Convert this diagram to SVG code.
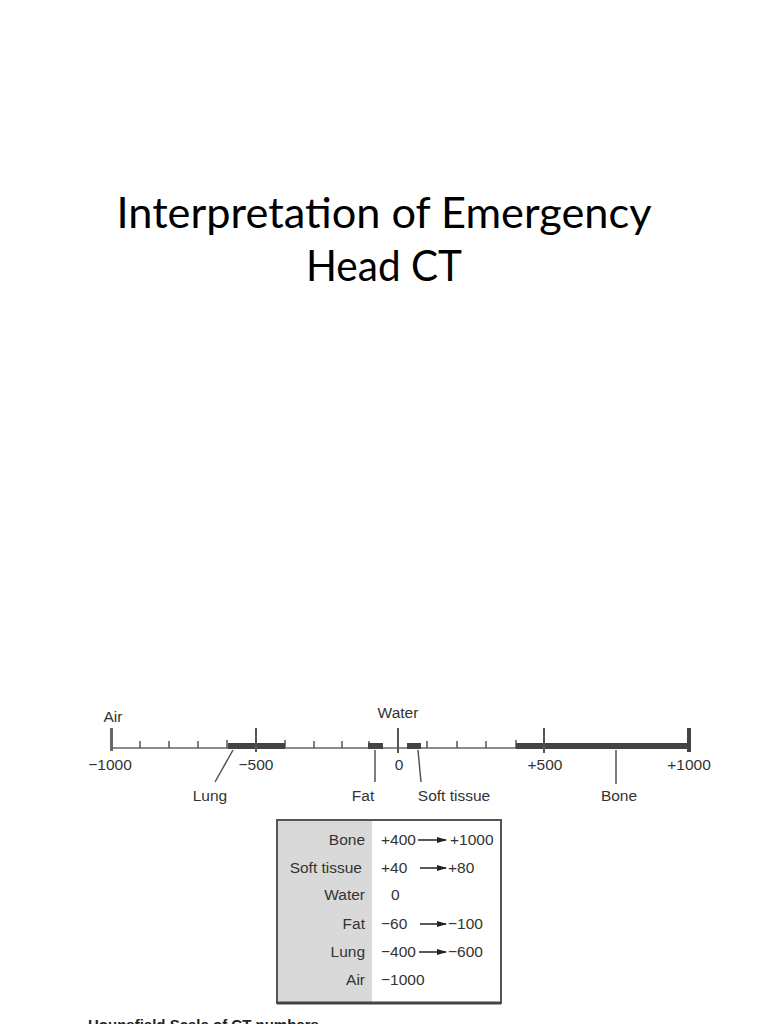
<svg xmlns="http://www.w3.org/2000/svg" width="768" height="1024" viewBox="0 0 768 1024">
<defs>
<marker id="ah" markerWidth="10" markerHeight="6" refX="9" refY="3" orient="auto" markerUnits="userSpaceOnUse">
<path d="M0,0 L10,3 L0,6 Z" fill="#222"/>
</marker>
</defs>
<style>
.t{font-family:"Liberation Sans",Arial,sans-serif;font-size:15.5px;fill:#333}
.title{font-family:Lato,"Open Sans",sans-serif;font-size:42px;fill:#000;text-anchor:middle}
.mn{stroke:#555;stroke-width:1.5}
.mj{stroke:#555;stroke-width:2}
.bar{fill:#444}
.lead{stroke:#555;stroke-width:1.5;fill:none}
.arr{stroke:#222;stroke-width:1.5;marker-end:url(#ah)}
</style>
<rect width="768" height="1024" fill="#fff"/>
<g id="title">
<text class="title" x="384" y="228" textLength="535" lengthAdjust="spacingAndGlyphs">Interpretation of Emergency</text>
<text class="title" x="384" y="281" textLength="156" lengthAdjust="spacingAndGlyphs">Head CT</text>
</g>
<g id="scale">
<line x1="111" y1="748" x2="690" y2="748" stroke="#666" stroke-width="1.5"/>
<line class="mn" x1="140" y1="741" x2="140" y2="748"/>
<line class="mn" x1="169" y1="741" x2="169" y2="748"/>
<line class="mn" x1="198" y1="741" x2="198" y2="748"/>
<line class="mn" x1="227" y1="740" x2="227" y2="748"/>
<line class="mn" x1="285" y1="740" x2="285" y2="748"/>
<line class="mn" x1="314" y1="741" x2="314" y2="748"/>
<line class="mn" x1="342" y1="741" x2="342" y2="748"/>
<line class="mn" x1="369" y1="741" x2="369" y2="748"/>
<line class="mn" x1="427" y1="741" x2="427" y2="748"/>
<line class="mn" x1="457" y1="741" x2="457" y2="748"/>
<line class="mn" x1="486" y1="741" x2="486" y2="748"/>
<line class="mn" x1="516" y1="740" x2="516" y2="748"/>
<rect class="bar" x="228" y="743" width="57" height="6"/>
<rect class="bar" x="368" y="743" width="15" height="6"/>
<rect class="bar" x="407" y="743" width="14" height="6"/>
<rect class="bar" x="516" y="743" width="173" height="6"/>
<line class="mj" x1="256" y1="728" x2="256" y2="752"/>
<line class="mj" x1="398" y1="728" x2="398" y2="753"/>
<line class="mj" x1="544" y1="728" x2="544" y2="753"/>
<line x1="111.5" y1="728" x2="111.5" y2="751" stroke="#666" stroke-width="3"/>
<line x1="689" y1="728" x2="689" y2="752" stroke="#444" stroke-width="4"/>
<text class="t" x="113" y="722" text-anchor="middle">Air</text>
<text class="t" x="398" y="718" text-anchor="middle">Water</text>
<text class="t" x="110" y="770" text-anchor="middle">−1000</text>
<text class="t" x="256" y="770" text-anchor="middle">−500</text>
<text class="t" x="399" y="770" text-anchor="middle">0</text>
<text class="t" x="545" y="770" text-anchor="middle">+500</text>
<text class="t" x="689" y="770" text-anchor="middle">+1000</text>
</g>
<g id="leaders">
<line class="lead" x1="233" y1="750" x2="215" y2="782"/>
<line class="lead" x1="375" y1="750" x2="375" y2="782"/>
<line class="lead" x1="418" y1="750" x2="421" y2="782"/>
<line class="lead" x1="616" y1="750" x2="616" y2="784"/>
</g>
<g id="labels">
<text class="t" x="210" y="801" text-anchor="middle">Lung</text>
<text class="t" x="363" y="801" text-anchor="middle">Fat</text>
<text class="t" x="454" y="801" text-anchor="middle">Soft tissue</text>
<text class="t" x="619" y="801" text-anchor="middle">Bone</text>
</g>
<g id="table">
<rect x="277" y="820" width="224" height="183" fill="#fff"/>
<rect x="277" y="820" width="95" height="183" fill="#d9d9d9"/>
<rect x="277" y="820" width="224" height="183" fill="none" stroke="#555" stroke-width="2"/>
<line x1="277" y1="1003" x2="501" y2="1003" stroke="#444" stroke-width="3"/>
<g class="t" text-anchor="end">
<text x="365" y="845">Bone</text>
<text x="362" y="873">Soft tissue</text>
<text x="365" y="900">Water</text>
<text x="365" y="929">Fat</text>
<text x="365" y="957">Lung</text>
<text x="365" y="985">Air</text>
</g>
<g class="t">
<text x="381" y="845">+400</text>
<text x="450" y="845">+1000</text>
<text x="381" y="873">+40</text>
<text x="448" y="873">+80</text>
<text x="391" y="900">0</text>
<text x="381" y="929">−60</text>
<text x="448" y="929">−100</text>
<text x="381" y="957">−400</text>
<text x="448" y="957">−600</text>
<text x="381" y="985">−1000</text>
</g>
<line class="arr" x1="418" y1="840" x2="446" y2="840"/>
<line class="arr" x1="420" y1="868" x2="446" y2="868"/>
<line class="arr" x1="420" y1="924" x2="446" y2="924"/>
<line class="arr" x1="419" y1="952" x2="446" y2="952"/>
</g>
<text x="88" y="1030" font-family="Liberation Sans,Arial,sans-serif" font-size="15" font-weight="bold" fill="#222">Hounsfield Scale of CT numbers</text>
</svg>
